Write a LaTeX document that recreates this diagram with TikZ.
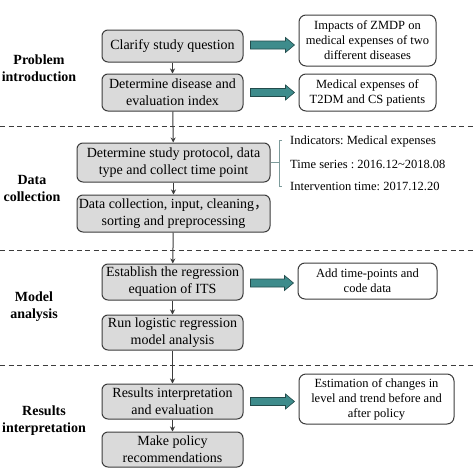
\documentclass[tikz,border=0pt]{standalone}
\usepackage{fontspec}
\setmainfont{Liberation Serif}
\newfontfamily\cjk{Noto Sans CJK SC}
\usetikzlibrary{arrows.meta,calc}
\definecolor{boxfill}{RGB}{218,218,218}
\definecolor{boxline}{RGB}{60,60,60}
\definecolor{tealc}{RGB}{62,140,140}
\definecolor{tealdark}{RGB}{35,75,75}
\definecolor{brk}{RGB}{125,155,155}
\frenchspacing
\begin{document}
\begin{tikzpicture}[x=1pt,y=-1pt,
  stepbox/.style={draw=boxline, fill=boxfill, line width=1pt, rounded corners=6pt, inner sep=0pt, align=center, font=\fontsize{14}{17}\selectfont},
  notebox/.style={draw=boxline, fill=white, line width=1pt, rounded corners=7pt, inner sep=0pt, align=center, font=\fontsize{12.5}{15}\selectfont},
  flow/.style={draw=boxline, line width=1pt, -{Stealth[length=5pt,width=5pt]}},
  sepline/.style={draw=boxline, line width=1pt, dash pattern=on 5pt off 3.5pt},
  phase/.style={font=\bfseries\fontsize{14}{17}\selectfont, align=center, inner sep=0pt},
  note/.style={font=\fontsize{12.5}{15}\selectfont, anchor=west, inner sep=0pt},
  brace/.style={draw=brk, line width=0.9pt},
  tealarrow/.style={draw=tealdark, fill=tealc, line width=0.6pt, line join=miter,
    to path={let \p1=(\tikztostart), \p2=(\tikztotarget) in
      (\x1,\y1+4pt) -- (\x2-9pt,\y1+4pt) -- (\x2-9pt,\y1+7.5pt) -- (\x2,\y1) -- (\x2-9pt,\y1-7.5pt) -- (\x2-9pt,\y1-4pt) -- (\x1,\y1-4pt) -- cycle}}
]
\useasboundingbox (0,0) rectangle (474,474);

% separators
\draw[sepline] (0,126) -- (474,126);
\draw[sepline] (0,250) -- (474,250);
\draw[sepline] (0,365) -- (474,365);

% phase labels
\node[phase] (p1) at (39,68.5) {Problem\\introduction};
\node[phase] (p2) at (32,188.5) {Data\\collection};
\node[phase] (p3) at (34,306.5) {Model\\analysis};
\node[phase] (p4) at (44,420.5) {Results\\interpretation};

% main steps
\node[stepbox, minimum width=141pt, minimum height=32pt] (b1) at (172.5,46) {Clarify study question};
\node[stepbox, minimum width=141pt, minimum height=37pt] (b2) at (172.5,92.5) {Determine disease and\\evaluation index};
\node[stepbox, minimum width=193pt, minimum height=39pt] (b3) at (173.5,162.5) {Determine study protocol, data\\type and collect time point};
\node[stepbox, minimum width=193pt, minimum height=37pt] (b4) at (173.5,213.5) {Data collection, input, cleaning{\cjk ，}\\sorting and preprocessing};
\node[stepbox, minimum width=141pt, minimum height=36pt] (b5) at (172.5,282) {Establish the regression\\equation of ITS};
\node[stepbox, minimum width=141pt, minimum height=35pt] (b6) at (172.5,332.5) {Run logistic regression\\model analysis};
\node[stepbox, minimum width=141pt, minimum height=35pt] (b7) at (172.5,401.5) {Results interpretation\\and evaluation};
\node[stepbox, minimum width=141pt, minimum height=35pt] (b8) at (172.5,449.5) {Make policy\\recommendations};

\draw[flow] (b1) -- (b2);
\draw[flow] (b2) -- (b3);
\draw[flow] (b3) -- (b4);
\draw[flow] (b4) -- (b5);
\draw[flow] (b5) -- (b6);
\draw[flow] (b6) -- (b7);
\draw[flow] (b7) -- (b8);

% side notes
\node[notebox, minimum width=137pt, minimum height=51pt] (r1) at (367.5,40.5) {Impacts of ZMDP on\\medical expenses of two\\different diseases};
\node[notebox, minimum width=137pt, minimum height=37pt] (r2) at (367.5,92.5) {Medical expenses of\\T2DM and CS patients};
\node[notebox, minimum width=139pt, minimum height=36pt] (r3) at (367.5,281) {Add time-points and\\code data};
\node[notebox, minimum width=155pt, minimum height=50pt] (r4) at (376.5,399) {Estimation of changes in\\level and trend before and\\after policy};

\coordinate (a1s) at ($(b1.east)+(7,-1)$);
\coordinate (a1e) at ($(r1.west|-a1s)+(-4,0)$);
\coordinate (a2s) at ($(b2.east)+(7,0)$);
\coordinate (a2e) at ($(r2.west|-a2s)+(-4,0)$);
\coordinate (a3s) at ($(b5.east)+(7,1)$);
\coordinate (a3e) at ($(r3.west|-a3s)+(-4,0)$);
\coordinate (a4s) at ($(b7.east)+(7,0)$);
\coordinate (a4e) at ($(r4.west|-a4s)+(-4,0)$);
\path[tealarrow] (a1s) to (a1e);
\path[tealarrow] (a2s) to (a2e);
\path[tealarrow] (a3s) to (a3e);
\path[tealarrow] (a4s) to (a4e);

% bracket with notes
\coordinate (bk) at (279,163);
\coordinate (bkt) at (279,140);
\coordinate (bkb) at (279,186);
\draw[brace] (b3.east) -- (b3.east -| bk);
\draw[brace] ($(bkt)+(3,0)$) -- (bkt) -- (bkb) -- ++(3,0);
\node[note] (n1) at (290,141) {Indicators: Medical expenses};
\node[note] (n2) at (290,164) {Time series : 2016.12\textasciitilde 2018.08};
\node[note] (n3) at (290,186) {Intervention time: 2017.12.20};
\end{tikzpicture}
\end{document}
